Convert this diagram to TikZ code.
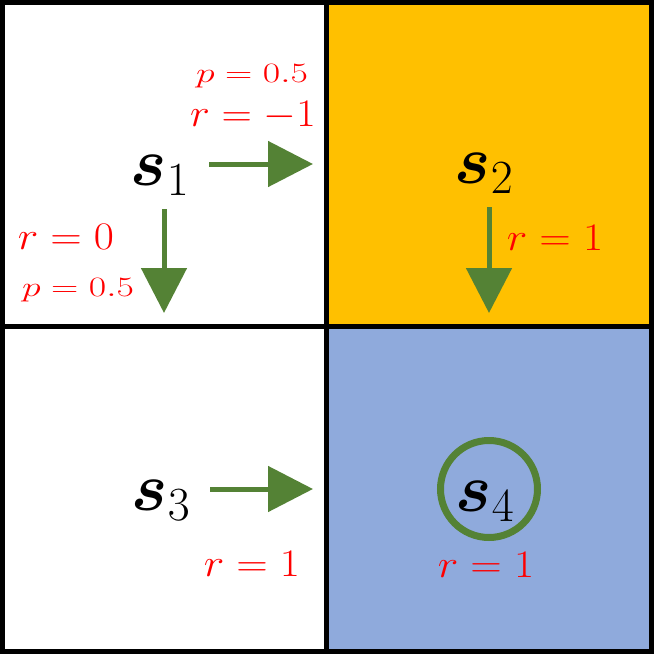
\RequirePackage{fix-cm}
\documentclass[tikz,border=0pt]{standalone}
\usepackage{amsmath}
\usetikzlibrary{arrows.meta,positioning}
\definecolor{cellorange}{HTML}{FFC000}
\definecolor{cellblue}{HTML}{8FAADC}
\definecolor{movegreen}{HTML}{548235}
\newcommand{\wide}[2]{\scalebox{#1}[1]{#2}}
\begin{document}
\begin{tikzpicture}[x=1pt,y=-1pt,
  grid/.style={draw=black, line width=5pt},
  state/.style={font=\fontsize{68}{68}\selectfont, anchor=base, inner xsep=20pt, inner ysep=14pt},
  goalring/.style={circle, draw=movegreen, line width=7pt, minimum size=97pt, inner sep=0pt},
  move/.style={draw=movegreen, line width=5pt, -{Triangle[length=45pt,width=45pt]}},
  rew/.style={text=red, font=\fontsize{39}{39}\selectfont, anchor=base, inner sep=0pt},
  prob/.style={text=red, font=\fontsize{28}{28}\selectfont, anchor=base, inner sep=0pt}
]
\useasboundingbox (0,0) rectangle (654,654);

% cells
\fill[cellorange] (326,2.5) rectangle (651.5,326);
\fill[cellblue] (326,326) rectangle (651.5,651.5);
\draw[grid] (2.5,2.5) rectangle (651.5,651.5);
\draw[grid] (326,2.5) -- (326,651.5);
\draw[grid] (2.5,326) -- (651.5,326);

% states
\node[state] (s1) at (160,185) {$\boldsymbol{s}_1$};
\node[state] (s2) at (484,183) {$\boldsymbol{s}_2$};
\node[state] (s3) at (161,510) {$\boldsymbol{s}_3$};
\node[state] (s4) at (485,511) {$\boldsymbol{s}_4$};
\node[goalring] (goal) at (489,489) {};

% arrow ends on the cell borders
\coordinate (t12) at (313,164);
\coordinate (t13) at (164,313);
\coordinate (t24) at (489,313);
\coordinate (t34) at (313,489);

\draw[move] (s1.east |- t12) -- (t12);
\draw[move] (s1.south -| t13) -- (t13);
\draw[move] (s2.south -| t24) -- (t24);
\draw[move] (s3.east |- t34) -- (t34);

% rewards and probabilities
\node[prob] (p12) at (252,82) {\wide{1.35}{$p=0.5$}};
\node[rew] (r12) at (253,126) {\wide{1.08}{$r=-1$}};
\node[rew] (r13) at (66,249) {\wide{1.12}{$r=0$}};
\node[prob] (p13) at (78,296) {\wide{1.35}{$p=0.5$}};
\node[rew] (r24) at (555,250) {\wide{1.12}{$r=1$}};
\node[rew] (r34) at (252,576) {\wide{1.12}{$r=1$}};
\node[rew] (r4) at (486,577) {\wide{1.12}{$r=1$}};
\end{tikzpicture}
\end{document}
